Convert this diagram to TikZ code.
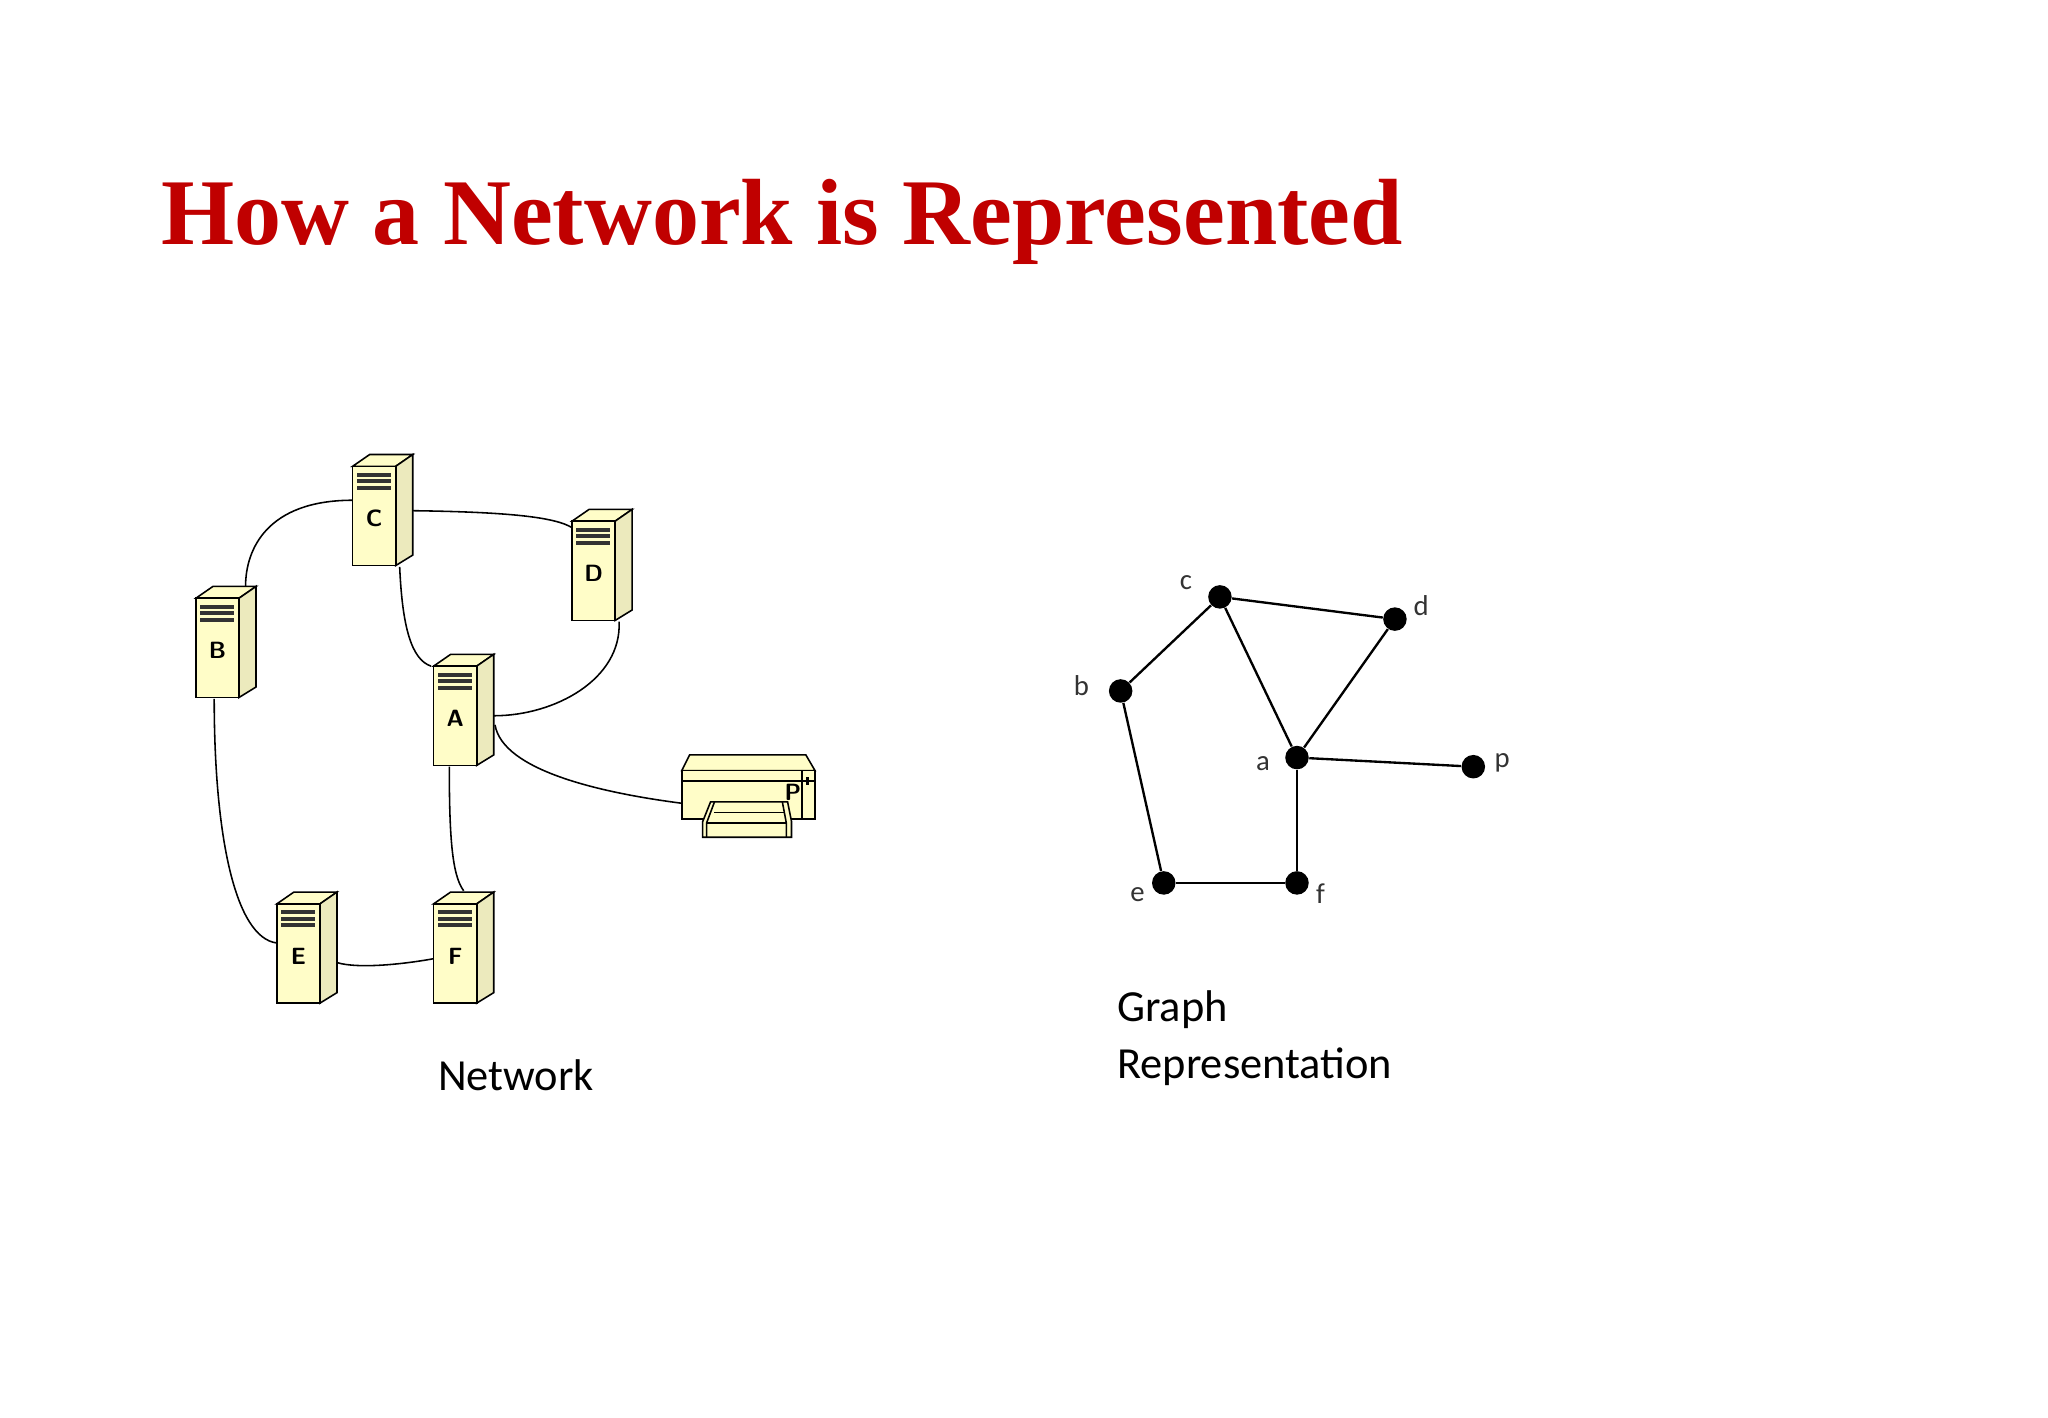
\documentclass[tikz,border=0pt]{standalone}
\usepackage{fontspec}
\setmainfont{Carlito}
\newfontfamily\titlefont{Liberation Serif}
\definecolor{srv}{HTML}{FFFDC8}
\definecolor{ttl}{HTML}{C00000}
\begin{document}
\begin{tikzpicture}[x=0.5pt,y=-0.5pt,
  wire/.style={line width=0.6pt},
  edge/.style={line width=0.9pt},
  vert/.style={circle,fill=black,inner sep=0pt,minimum size=9pt},
  vlab/.style={font=\fontsize{11}{13}\selectfont,text=black!80},
  slab/.style={font=\sffamily\bfseries\fontsize{9}{10}\selectfont},
  captxt/.style={font=\fontsize{17}{21}\selectfont,anchor=base west,align=left}]
\useasboundingbox (0,0) rectangle (1568,1085);
\fill[white] (0,0) rectangle (1568,1085);
\node[anchor=base west,inner sep=0pt,text=ttl,font=\titlefont\bfseries\fontsize{36}{40}\selectfont] (title) at (123,187) {How a Network is Represented};
\newcommand\srvbox[3]{%
  \begin{scope}[shift={(#2,#3)}]
  \draw[fill=srv,line width=0.6pt] (0,0) -- (13,-9) -- (46,-9) -- (33,0) -- cycle;
  \draw[fill=srv!85!gray,line width=0.6pt] (33,0) -- (46,-9) -- (46,68) -- (33,76) -- cycle;
  \draw[fill=srv,line width=0.6pt] (0,0) rectangle (33,76);
  \foreach \yy in {5,10,15}{\fill[black!80] (3,\yy) rectangle (29,\yy+3);}
  \end{scope}
  \node[slab,inner sep=0pt,minimum width=16pt,minimum height=38pt] (#1) at ({#2+16.5},{#3+38}) {};
  \node[slab] (#1l) at ({#2+16.5},{#3+40}) {#1};}
\srvbox{C}{270}{357}
\srvbox{D}{438}{399}
\srvbox{B}{150}{458}
\srvbox{A}{332}{510}
\srvbox{E}{212}{692}
\srvbox{F}{332}{692}
\begin{scope}[line width=0.6pt]
\draw[fill=srv] (528,578) -- (617,578) -- (624,590) -- (522,590) -- cycle;
\draw[fill=srv] (522,590) rectangle (624,627);
\draw (522,598) -- (624,598);
\draw (614,590) -- (614,627);
\draw[fill=srv] (538,641) -- (538,629) -- (544,614) -- (603,614) -- (606,629) -- (606,641) -- cycle;
\draw (541,641) -- (541,630) -- (547,614);
\draw (602,641) -- (602,630) -- (599,614);
\draw (547,622) -- (600,622);
\draw (541,630) -- (602,630);
\fill[black] (617,595) rectangle (619,601);
\end{scope}
\node[slab] (P) at (607,607) {P};
\coordinate (Pin) at (522,615);
\draw[wire] (270,383) .. controls (205,383) and (188,420) .. (188,449);
\draw[wire] (316,391) .. controls (390,392) and (425,396) .. (438,404);
\draw[wire] (306,434) .. controls (308,480) and (315,505) .. (330,510);
\draw[wire] (474,476) .. controls (476,520) and (425,548) .. (378,548);
\draw[wire] (379,555) .. controls (385,590) and (460,607) .. (Pin);
\draw[wire] (344,587) .. controls (344,640) and (346,670) .. (355,682);
\draw[wire] (164,535) .. controls (164,640) and (180,718) .. (212,722);
\draw[wire] (258,737) .. controls (275,742) and (310,738) .. (332,734);
\node[vert] (c) at (934,457) {};
\node[vert] (d) at (1068,474) {};
\node[vert] (b) at (858,529) {};
\node[vert] (a) at (993,580) {};
\node[vert] (p) at (1128,587) {};
\node[vert] (e) at (891,676) {};
\node[vert] (f) at (993,676) {};
\draw[edge] (c) -- (d);
\draw[edge] (c) -- (b);
\draw[edge] (c) -- (a);
\draw[edge] (d) -- (a);
\draw[edge] (a) -- (p);
\draw[edge] (a) -- (f);
\draw[edge] (b) -- (e);
\draw[edge] (e) -- (f);
\node[vlab] (lc) at (908,446) {c};
\node[vlab] (ld) at (1088,464) {d};
\node[vlab] (lb) at (828,525) {b};
\node[vlab] (la) at (967,585) {a};
\node[vlab] (lp) at (1150,584) {p};
\node[vlab] (le) at (871,685) {e};
\node[vlab] (lf) at (1011,684) {f};
\node[captxt,inner sep=0pt] (net) at (335,835) {Network};
\node[captxt,inner sep=0pt] (gr1) at (855,782) {Graph};
\node[captxt,inner sep=0pt] (gr2) at (855,826) {Representation};
\end{tikzpicture}
\end{document}
